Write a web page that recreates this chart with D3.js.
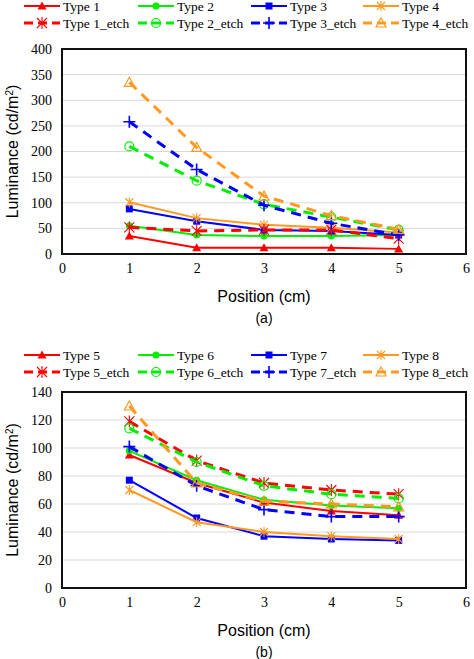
<!DOCTYPE html>
<html>
<head>
<meta charset="utf-8">
<script src="https://cdn.jsdelivr.net/npm/d3@7"></script>
<style>
body { margin: 0; background: #fff; }
svg { display: block; }
</style>
</head>
<body>
<script>
// positions along the sample (cm)
var positions = [1, 2, 3, 4, 5];

// chart (a) series names and values
var namesA = ["Type 1", "Type 2", "Type 3", "Type 4",
              "Type 1_etch", "Type 2_etch", "Type 3_etch", "Type 4_etch"];
var type1 = [35, 12, 12, 12, 10];
var type2 = [55, 37, 35, 35, 37];
var type3 = [88, 64, 47, 45, 37];
var type4 = [101, 70, 57, 51, 42];
var type1Etch = [52, 45, 47, 47, 30];
var type2Etch = [210, 143, 97, 72, 47];
var type3Etch = [258, 165, 95, 60, 37];
var type4Etch = [335, 208, 113, 75, 48];

// chart (b) series names and values
var namesB = ["Type 5", "Type 6", "Type 7", "Type 8",
              "Type 5_etch", "Type 6_etch", "Type 7_etch", "Type 8_etch"];
var type5 = [95, 75, 61, 55, 52];
var type6 = [98, 77, 63, 59, 57];
var type7 = [77, 50, 37, 35, 34];
var type8 = [70, 47, 40, 37, 35];
var type5Etch = [119, 91, 75, 70, 67];
var type6Etch = [114, 90, 73, 67, 64];
var type7Etch = [101, 73, 56, 51, 51];
var type8Etch = [130, 75, 62, 60, 58];

var xTicks = [0, 1, 2, 3, 4, 5, 6];
var yTicksA = [0, 50, 100, 150, 200, 250, 300, 350, 400];
var yTicksB = [0, 20, 40, 60, 80, 100, 120, 140];

// style per series slot (same for both charts)
var colors = ["#ff0000", "#00ee00", "#0000ff", "#ff9922",
              "#ff0000", "#00ee00", "#0000ff", "#ff9922"];
var markers = ["triangle", "dot", "square", "asterisk",
               "star", "circle", "plus", "opentri"];

var W = 474, H = 659;
var svg = d3.select("body").append("svg")
    .attr("width", W)
    .attr("height", H);

var serif = "'Liberation Serif', 'Times New Roman', serif";
var sans = "'Liberation Sans', Arial, sans-serif";

//draw one marker symbol at (x, y)
function drawMarker(g, type, x, y, color){
    if(type == "triangle"){
        g.append("path").attr("d", "M" + x + "," + (y - 4.5) + "L" + (x + 4.5) + "," + (y + 3.5) + "L" + (x - 4.5) + "," + (y + 3.5) + "Z")
            .attr("fill", color);
    } else if(type == "dot"){
        g.append("circle").attr("cx", x).attr("cy", y).attr("r", 3.5).attr("fill", color);
    } else if(type == "square"){
        g.append("rect").attr("x", x - 3.5).attr("y", y - 3.5).attr("width", 7).attr("height", 7).attr("fill", color);
    } else if(type == "asterisk" || type == "star"){
        var r = type == "star" ? 5 : 4;
        var d = "M" + (x - r) + "," + (y - r) + "L" + (x + r) + "," + (y + r) +
                "M" + (x - r) + "," + (y + r) + "L" + (x + r) + "," + (y - r) +
                "M" + x + "," + (y - r - 1) + "L" + x + "," + (y + r + 1);
        g.append("path").attr("d", d).attr("stroke", color).attr("stroke-width", 1.1).attr("fill", "none");
    } else if(type == "circle"){
        g.append("circle").attr("cx", x).attr("cy", y).attr("r", 4.5)
            .attr("fill", "none").attr("stroke", color).attr("stroke-width", 1.2);
    } else if(type == "plus"){
        var p = 6;
        g.append("path").attr("d", "M" + (x - p) + "," + y + "L" + (x + p) + "," + y + "M" + x + "," + (y - p) + "L" + x + "," + (y + p))
            .attr("stroke", color).attr("stroke-width", 1.6);
    } else if(type == "opentri"){
        g.append("path").attr("d", "M" + x + "," + (y - 5) + "L" + (x + 5) + "," + (y + 4) + "L" + (x - 5) + "," + (y + 4) + "Z")
            .attr("fill", "none").attr("stroke", color).attr("stroke-width", 1.2);
    }
}

//draw one full panel: legend, axes, series and captions
function drawPanel(opt){
    var g = svg.append("g");

    var x = d3.scaleLinear().domain([0, 6]).range([opt.left, opt.right]);
    var y = d3.scaleLinear().domain([0, opt.yMax]).range([opt.bottom, opt.top]);

    //legend
    var legendX = [24, 138, 251, 363];
    opt.names.forEach(function(name, i){
        var col = i % 4, row = Math.floor(i / 4);
        var lx = legendX[col], ly = opt.legendY + row * 17;
        var dashed = i >= 4;
        g.append("line")
            .attr("x1", lx).attr("x2", lx + 36)
            .attr("y1", ly).attr("y2", ly)
            .attr("stroke", colors[i])
            .attr("stroke-width", dashed ? 3 : 2)
            .attr("stroke-dasharray", dashed ? "9,5" : null);
        drawMarker(g, markers[i], lx + 18, ly, colors[i]);
        g.append("text")
            .attr("x", lx + 39).attr("y", ly + 4.5)
            .attr("font-family", serif).attr("font-size", 13.5)
            .attr("fill", "#000")
            .text(name);
    });

    //gridlines
    g.selectAll(".grid")
        .data(opt.yTicks.filter(function(d){ return d > 0 && d < opt.yMax; }))
        .enter().append("line")
        .attr("x1", opt.left).attr("x2", opt.right)
        .attr("y1", function(d){ return y(d); })
        .attr("y2", function(d){ return y(d); })
        .attr("stroke", "#d9d9d9").attr("stroke-width", 1);

    //y axis labels
    var yAxis = d3.axisLeft(y).tickValues(opt.yTicks).tickFormat(d3.format("d")).tickSize(0).tickPadding(10);
    var ya = g.append("g").attr("transform", "translate(" + opt.left + ",0)").call(yAxis);
    ya.select(".domain").remove();
    ya.selectAll("text").attr("font-family", serif).attr("font-size", 14).attr("fill", "#000");

    //x axis labels
    var xAxis = d3.axisBottom(x).tickValues(xTicks).tickFormat(d3.format("d")).tickSize(0).tickPadding(9);
    var xa = g.append("g").attr("transform", "translate(0," + opt.bottom + ")").call(xAxis);
    xa.select(".domain").remove();
    xa.selectAll("text").attr("font-family", serif).attr("font-size", 14).attr("fill", "#000");

    //series lines
    var line = d3.line()
        .x(function(d, j){ return x(positions[j]); })
        .y(function(d){ return y(d); });

    opt.series.forEach(function(vals, i){
        var dashed = i >= 4;
        g.append("path")
            .datum(vals)
            .attr("d", line)
            .attr("fill", "none")
            .attr("stroke", colors[i])
            .attr("stroke-width", dashed ? 3 : 2)
            .attr("stroke-dasharray", dashed ? "10,7" : null);
        vals.forEach(function(v, j){
            drawMarker(g, markers[i], x(positions[j]), y(v), colors[i]);
        });
    });

    //plot border
    g.append("rect")
        .attr("x", opt.left).attr("y", opt.top)
        .attr("width", opt.right - opt.left)
        .attr("height", opt.bottom - opt.top)
        .attr("fill", "none").attr("stroke", "#111").attr("stroke-width", 2);

    //axis titles
    g.append("text")
        .attr("transform", "translate(18," + ((opt.top + opt.bottom) / 2) + ") rotate(-90)")
        .attr("text-anchor", "middle")
        .attr("font-family", sans).attr("font-size", 16)
        .attr("fill", "#000")
        .html("Luminance (cd/m<tspan baseline-shift='super' font-size='10'>2</tspan>)");

    g.append("text")
        .attr("x", (opt.left + opt.right) / 2)
        .attr("y", opt.bottom + 48)
        .attr("text-anchor", "middle")
        .attr("font-family", sans).attr("font-size", 16)
        .attr("fill", "#000")
        .text("Position (cm)");

    g.append("text")
        .attr("x", (opt.left + opt.right) / 2)
        .attr("y", opt.bottom + 69)
        .attr("text-anchor", "middle")
        .attr("font-family", sans).attr("font-size", 14)
        .attr("fill", "#000")
        .text(opt.caption);
}

drawPanel({
    names: namesA,
    series: [type1, type2, type3, type4, type1Etch, type2Etch, type3Etch, type4Etch],
    yMax: 400, yTicks: yTicksA,
    left: 62, right: 466, top: 49, bottom: 254,
    legendY: 6, caption: "(a)"
});

drawPanel({
    names: namesB,
    series: [type5, type6, type7, type8, type5Etch, type6Etch, type7Etch, type8Etch],
    yMax: 140, yTicks: yTicksB,
    left: 62, right: 466, top: 392, bottom: 588,
    legendY: 355, caption: "(b)"
});
</script>
</body>
</html>
